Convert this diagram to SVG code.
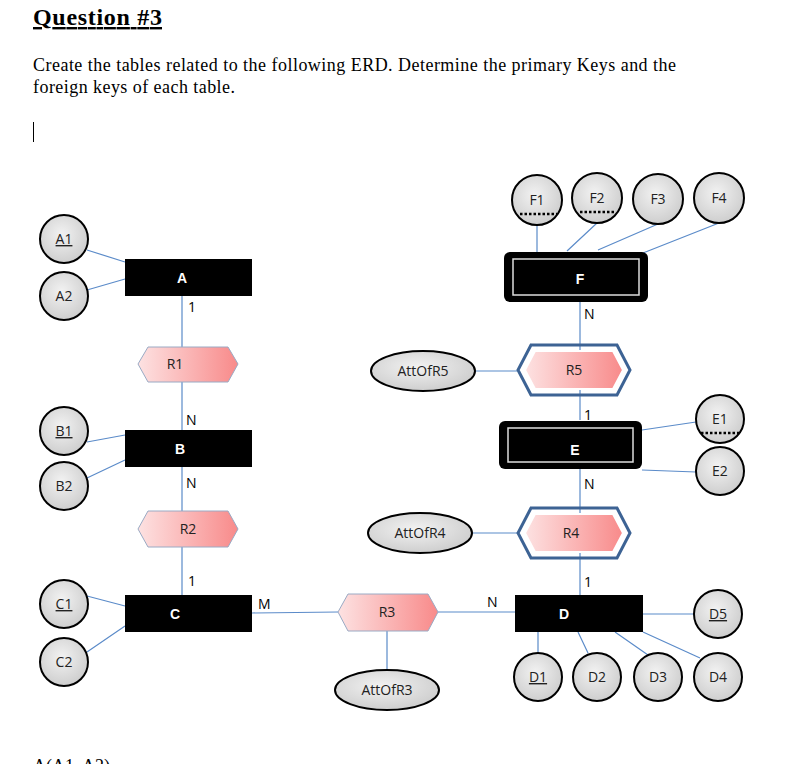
<svg xmlns="http://www.w3.org/2000/svg" width="806" height="764" viewBox="0 0 806 764">
<defs>
<linearGradient id="pk" x1="0" x2="1" y1="0" y2="0"><stop offset="0" stop-color="#fde2e2"/><stop offset="1" stop-color="#f88a8a"/></linearGradient>
<radialGradient id="gr" cx="0.45" cy="0.4" r="0.7"><stop offset="0" stop-color="#f2f2f2"/><stop offset="1" stop-color="#c8c8c8"/></radialGradient>
<style>
.ser{font-family:"Liberation Serif",serif;fill:#000}
.t{font-family:"Open Sans","Liberation Sans",sans-serif;font-size:14px;fill:#222;text-anchor:middle}
.w{font-family:"Liberation Sans",sans-serif;font-size:14px;font-weight:bold;fill:#fff;text-anchor:middle}
.c{fill:url(#gr);stroke:#000;stroke-width:2}
.o{fill:url(#gr);stroke:#000;stroke-width:2}
.ent{fill:#000}
.hx{fill:url(#pk);stroke:#9aaac4;stroke-width:1}
.hx2{fill:url(#pk);stroke:#fff;stroke-width:2}
.hxo{fill:none;stroke:#3d6394;stroke-width:3}
.ln{stroke:#5b8bc9;stroke-width:1.2;fill:none}
.lb{font-family:"Open Sans","Liberation Sans",sans-serif;font-size:14px;fill:#000}
.dot{stroke:#000;stroke-width:2.5;stroke-dasharray:2.5 2}
</style>
</defs>
<text class="ser" x="33" y="25" font-size="24" font-weight="bold" text-decoration="underline" textLength="129">Question #3</text>
<text class="ser" x="33" y="71" font-size="18" textLength="643">Create the tables related to the following ERD. Determine the primary Keys and the</text>
<text class="ser" x="33" y="93" font-size="18" textLength="202">foreign keys of each table.</text>
<line x1="33.5" y1="122" x2="33.5" y2="142" stroke="#000" stroke-width="1"/>
<text class="ser" x="33" y="772" font-size="18">A(A1, A2)</text>

<g id="connectors">
<path class="ln" d="M87,250 L125,262 M87,290 L125,279 M182,296 V430 M182,467 V595 M87,442 L125,435 M87,478 L125,460 M87,596 L125,606 M87,652 L125,626 M252,613 L338,612 M438,612 L515,612 M387,670 V631"/>
<path class="ln" d="M580,302 V420 M580,469 V595 M475,371 H517 M472,533 H517 M537,225 V253 M597,223 L567,251 M658,224 L598,250 M719,223 L643,253 M642,430 L696,422 M642,470 L696,472 M643,614 H694 M538,652 V632 M588,653 L578,632 M648,655 L615,632 M700,658 L643,632"/>
<text class="lb" x="188" y="312">1</text>
<text class="lb" x="186" y="425">N</text>
<text class="lb" x="186" y="488">N</text>
<text class="lb" x="188" y="586">1</text>
<text class="lb" x="258" y="609">M</text>
<text class="lb" x="487" y="607">N</text>
<text class="lb" x="584" y="587">1</text>
<text class="lb" x="584" y="489">N</text>
<text class="lb" x="584" y="420">1</text>
<text class="lb" x="584" y="319">N</text>
</g>

<g id="A"><rect class="ent" x="125" y="259" width="127" height="37"/><text class="w" x="182" y="283">A</text></g>
<g id="B"><rect class="ent" x="125" y="430" width="127" height="37"/><text class="w" x="180" y="454">B</text></g>
<g id="C"><rect class="ent" x="125" y="595" width="127" height="37"/><text class="w" x="175" y="619">C</text></g>
<g id="D"><rect class="ent" x="515" y="595" width="128" height="37"/><text class="w" x="564" y="619">D</text></g>
<g id="E"><rect x="499" y="421" width="143" height="48" rx="6" fill="#000"/><rect x="508" y="428" width="125" height="34" fill="#000" stroke="#ddd" stroke-width="1.5"/><text class="w" x="575" y="455">E</text></g>
<g id="F"><rect x="504" y="252" width="144" height="50" rx="6" fill="#000"/><rect x="513" y="259" width="126" height="36" fill="#000" stroke="#ddd" stroke-width="1.5"/><text class="w" x="580" y="284">F</text></g>

<g id="R1"><polygon class="hx" points="148,347 228,347 238,364 228,382 148,382 138,364"/><text class="t" x="175" y="369">R1</text></g>
<g id="R2"><polygon class="hx" points="148,511 228,511 238,529 228,547 148,547 138,529"/><text class="t" x="188" y="534">R2</text></g>
<g id="R3"><polygon class="hx" points="348,594 428,594 438,612 428,631 348,631 338,612"/><text class="t" x="387" y="617">R3</text></g>
<g id="R5"><polygon class="hxo" points="531,345 617,345 630,370 617,395 531,395 518,370"/><polygon class="hx2" points="535,351 613,351 623,370 613,389 535,389 525,370"/><text class="t" x="574" y="375">R5</text></g>
<g id="R4"><polygon class="hxo" points="531,508 617,508 630,533 617,558 531,558 518,533"/><polygon class="hx2" points="535,514 613,514 623,533 613,552 535,552 525,533"/><text class="t" x="571" y="538">R4</text></g>

<g id="A1"><circle class="c" cx="64" cy="239" r="24"/><text class="t" x="64" y="244" text-decoration="underline">A1</text></g>
<g id="A2"><circle class="c" cx="64" cy="296" r="24"/><text class="t" x="64" y="301">A2</text></g>
<g id="B1"><circle class="c" cx="64" cy="431" r="24"/><text class="t" x="64" y="436" text-decoration="underline">B1</text></g>
<g id="B2"><circle class="c" cx="64" cy="486" r="24"/><text class="t" x="64" y="491">B2</text></g>
<g id="C1"><circle class="c" cx="64" cy="604" r="24"/><text class="t" x="64" y="609" text-decoration="underline">C1</text></g>
<g id="C2"><circle class="c" cx="64" cy="662" r="24"/><text class="t" x="64" y="667">C2</text></g>
<g id="F1"><circle class="c" cx="537" cy="200" r="25"/><text class="t" x="537" y="205">F1</text><line class="dot" x1="520" y1="214" x2="557" y2="214"/></g>
<g id="F2"><circle class="c" cx="597" cy="198" r="25"/><text class="t" x="597" y="203">F2</text><line class="dot" x1="580" y1="212" x2="615" y2="212"/></g>
<g id="F3"><circle class="c" cx="658" cy="199" r="25"/><text class="t" x="658" y="204">F3</text></g>
<g id="F4"><circle class="c" cx="719" cy="198" r="25"/><text class="t" x="719" y="203">F4</text></g>
<g id="E1"><circle class="c" cx="720" cy="419" r="24"/><text class="t" x="720" y="424">E1</text><line class="dot" x1="701" y1="433" x2="740" y2="433"/></g>
<g id="E2"><circle class="c" cx="720" cy="471" r="24"/><text class="t" x="720" y="476" font-family="Liberation Serif,serif">E2</text></g>
<g id="D5"><circle class="c" cx="718" cy="614" r="24"/><text class="t" x="718" y="619" text-decoration="underline">D5</text></g>
<g id="D1"><circle class="c" cx="538" cy="677" r="24"/><text class="t" x="538" y="682" text-decoration="underline">D1</text></g>
<g id="D2"><circle class="c" cx="597" cy="677" r="24"/><text class="t" x="597" y="682">D2</text></g>
<g id="D3"><circle class="c" cx="658" cy="677" r="24"/><text class="t" x="658" y="682">D3</text></g>
<g id="D4"><circle class="c" cx="718" cy="677" r="24"/><text class="t" x="718" y="682">D4</text></g>
<g id="AttOfR5"><ellipse class="o" cx="423" cy="371" rx="52" ry="20"/><text class="t" x="423" y="376">AttOfR5</text></g>
<g id="AttOfR4"><ellipse class="o" cx="420" cy="533" rx="52" ry="20"/><text class="t" x="420" y="538">AttOfR4</text></g>
<g id="AttOfR3"><ellipse class="o" cx="387" cy="690" rx="52" ry="20"/><text class="t" x="387" y="695">AttOfR3</text></g>
</svg>
